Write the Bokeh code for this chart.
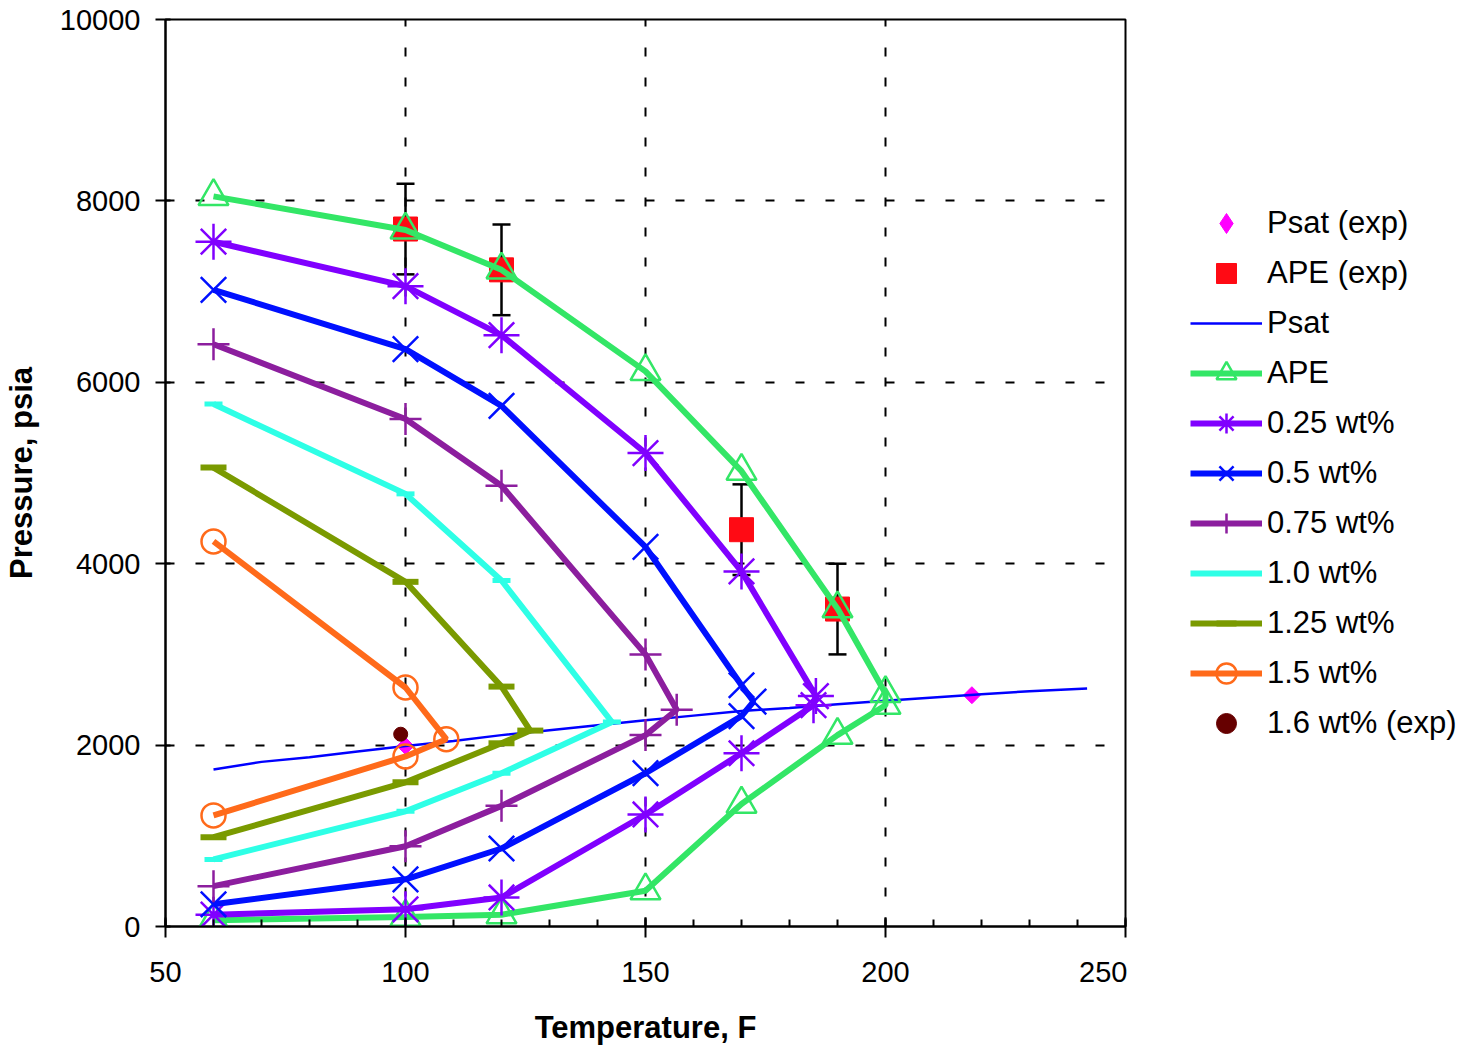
import math
from bokeh.plotting import figure
from bokeh.layouts import row
from bokeh.models import Legend, LegendItem, FixedTicker, Range1d
from bokeh.embed import file_html
from bokeh.resources import INLINE

# Saturation pressure curve
psat_T = [60, 70, 80, 90, 100, 110, 120, 130, 140, 150, 160, 170, 180, 190, 200, 210, 220, 230, 242]
psat_P = [1730, 1815, 1865, 1930, 1990, 2045, 2110, 2165, 2220, 2275, 2325, 2375, 2410, 2450, 2490, 2525, 2560, 2595, 2625]

# Measured saturation pressure
psat_exp_T = [100, 218]
psat_exp_P = [1990, 2550]

# Measured asphaltene precipitation envelope, with error
ape_exp_T = [100, 120, 170, 190]
ape_exp_P = [7690, 7240, 4375, 3500]
ape_exp_err = [500, 500, 500, 500]

# Calculated envelopes (upper branch, then lower branch back to 60 F)
ape_T = [60, 100, 120, 150, 170, 190, 200, 200, 190, 170, 150, 120, 100, 60]
ape_P = [8050, 7680, 7240, 6120, 5020, 3505, 2570, 2440, 2110, 1350, 395, 130, 105, 70]

w025_T = [60, 100, 120, 150, 170, 185.5, 185, 170, 150, 120, 100, 60]
w025_P = [7550, 7060, 6520, 5220, 3915, 2540, 2440, 1910, 1235, 320, 190, 130]

w050_T = [60, 100, 120, 150, 170, 172.5, 170, 150, 120, 100, 60]
w050_P = [7020, 6365, 5740, 4185, 2660, 2480, 2320, 1690, 860, 520, 245]

w075_T = [60, 100, 120, 150, 156.5, 150, 120, 100, 60]
w075_P = [6420, 5595, 4860, 3000, 2390, 2110, 1330, 885, 445]

w100_T = [60, 100, 120, 143, 120, 100, 60]
w100_P = [5760, 4770, 3815, 2255, 1690, 1270, 740]

w125_T = [60, 100, 120, 126, 120, 100, 60]
w125_P = [5060, 3800, 2645, 2160, 2020, 1590, 985]

w150_T = [60, 100, 108.5, 100, 60]
w150_P = [4245, 2635, 2065, 1875, 1225]

# Measured onset at 1.6 wt%
w160_T = [99]
w160_P = [2120]

x_ticks = [50, 100, 150, 200, 250]
y_ticks = [0, 2000, 4000, 6000, 8000, 10000]

FONT = "Liberation Sans"

p = figure(width=1127, height=1047, output_backend="svg", toolbar_location=None,
           x_range=Range1d(50, 250), y_range=Range1d(0, 10000),
           min_border_left=163, min_border_right=2, min_border_top=19, min_border_bottom=118)

p.background_fill_color = "white"
p.border_fill_color = "white"
p.outline_line_color = "black"
p.outline_line_width = 2

# axes
p.xaxis.ticker = FixedTicker(ticks=x_ticks, minor_ticks=list(range(50, 251, 10)))
p.yaxis.ticker = FixedTicker(ticks=y_ticks)
for ax in (p.xaxis[0], p.yaxis[0]):
    ax.axis_line_color = "black"
    ax.axis_line_width = 2
    ax.major_tick_line_color = "black"
    ax.major_tick_line_width = 2
    ax.major_label_text_font = FONT
    ax.major_label_text_font_size = "29px"
    ax.major_label_text_color = "black"
    ax.axis_label_text_font = FONT
    ax.axis_label_text_font_size = "31px"
    ax.axis_label_text_font_style = "bold"
    ax.axis_label_text_color = "black"
p.xaxis.major_tick_in = 9
p.xaxis.major_tick_out = 11
p.xaxis.minor_tick_in = 7
p.xaxis.minor_tick_out = 0
p.xaxis.minor_tick_line_color = "black"
p.xaxis.minor_tick_line_width = 2
p.yaxis.major_tick_in = 5
p.yaxis.major_tick_out = 10
p.yaxis.minor_tick_line_color = None
p.xaxis.major_label_standoff = 24
p.yaxis.major_label_standoff = 15
p.xaxis.axis_label = "Temperature, F"
p.yaxis.axis_label = "Pressure, psia"
p.xaxis.axis_label_standoff = 25
p.yaxis.axis_label_standoff = 18

# dashed grid at the inner major ticks only
p.xgrid.ticker = FixedTicker(ticks=[100, 150, 200])
p.ygrid.ticker = FixedTicker(ticks=[2000, 4000, 6000, 8000])
for g in (p.xgrid[0], p.ygrid[0]):
    g.grid_line_color = "black"
    g.grid_line_width = 2
    g.grid_line_dash = "9 21"

# legend panel beside the chart; its key glyphs repeat each series' style
# (the series themselves lie outside this panel's ranges, so only the keys show)
lg = figure(width=340, height=1047, output_backend="svg", toolbar_location=None,
            x_axis_type=None, y_axis_type=None, x_range=Range1d(0, 1), y_range=Range1d(0, 1),
            min_border_left=0, min_border_right=0, min_border_top=0, min_border_bottom=0)
lg.outline_line_color = None
lg.grid.visible = False
lg.background_fill_color = "white"
lg.border_fill_color = "white"

items = []


def add_scatter(xs, ys, key_kw=None, **kw):
    r = p.scatter(xs, ys, **kw)
    kk = dict(kw)
    if key_kw:
        kk.update(key_kw)
    key = lg.scatter(xs, ys, **kk)
    return r, key


def add_line(xs, ys, **kw):
    r = p.line(xs, ys, **kw)
    key = lg.line(xs, ys, **kw)
    return r, key


# Psat (exp): square turned on its corner (key drawn as a diamond)
_, k = add_scatter(psat_exp_T, psat_exp_P, marker="square", size=12, angle=math.pi / 4,
                   fill_color="#FF00FF", line_color="#FF00FF",
                   key_kw=dict(marker="diamond", angle=0))
items.append(LegendItem(label="Psat (exp)", renderers=[k]))

# APE (exp) with error bars
lo = [v - e for v, e in zip(ape_exp_P, ape_exp_err)]
hi = [v + e for v, e in zip(ape_exp_P, ape_exp_err)]
p.segment(x0=ape_exp_T, y0=lo, x1=ape_exp_T, y1=hi, line_color="black", line_width=2.5)
p.scatter(ape_exp_T, lo, marker="dash", size=18, line_color="black", line_width=2.5)
p.scatter(ape_exp_T, hi, marker="dash", size=18, line_color="black", line_width=2.5)
_, k = add_scatter(ape_exp_T, ape_exp_P, marker="square", size=24,
                   fill_color="#FF0A14", line_color="#FF0A14")
items.append(LegendItem(label="APE (exp)", renderers=[k]))

# Psat curve
_, k = add_line(psat_T, psat_P, line_color="#0000FF", line_width=2.5)
items.append(LegendItem(label="Psat", renderers=[k]))

series = [
    ("APE", ape_T, ape_P, "#33E666", "triangle", 30, 2.5),
    ("0.25 wt%", w025_T, w025_P, "#8000FF", "asterisk", 36, 2.5),
    ("0.5 wt%", w050_T, w050_P, "#0010FF", "x", 36, 2.5),
    ("0.75 wt%", w075_T, w075_P, "#8C1E9E", "cross", 32, 2.5),
    ("1.0 wt%", w100_T, w100_P, "#2EFFE6", "dash", 18, 5),
    ("1.25 wt%", w125_T, w125_P, "#7A9A00", "dash", 26, 6),
    ("1.5 wt%", w150_T, w150_P, "#FF6A1A", "circle", 24, 2.5),
]
for label, xs, ys, color, marker, size, mlw in series:
    _, kl = add_line(xs, ys, line_color=color, line_width=6)
    _, km = add_scatter(xs, ys, marker=marker, size=size, fill_color=None,
                        line_color=color, line_width=mlw)
    items.append(LegendItem(label=label, renderers=[kl, km]))

_, k = add_scatter(w160_T, w160_P, marker="circle", size=14,
                   fill_color="#660000", line_color="#660000")
items.append(LegendItem(label="1.6 wt% (exp)", renderers=[k]))

legend = Legend(items=items, location=(63, 178), orientation="vertical",
                glyph_width=72, glyph_height=50, label_height=50, spacing=0,
                label_standoff=5, padding=0, margin=0,
                label_text_font=FONT, label_text_font_size="31px",
                label_text_color="black",
                border_line_color=None, background_fill_alpha=0)
lg.add_layout(legend, "center")

layout = row(p, lg, spacing=0)
open("out.html", "w").write(file_html(layout, INLINE))
